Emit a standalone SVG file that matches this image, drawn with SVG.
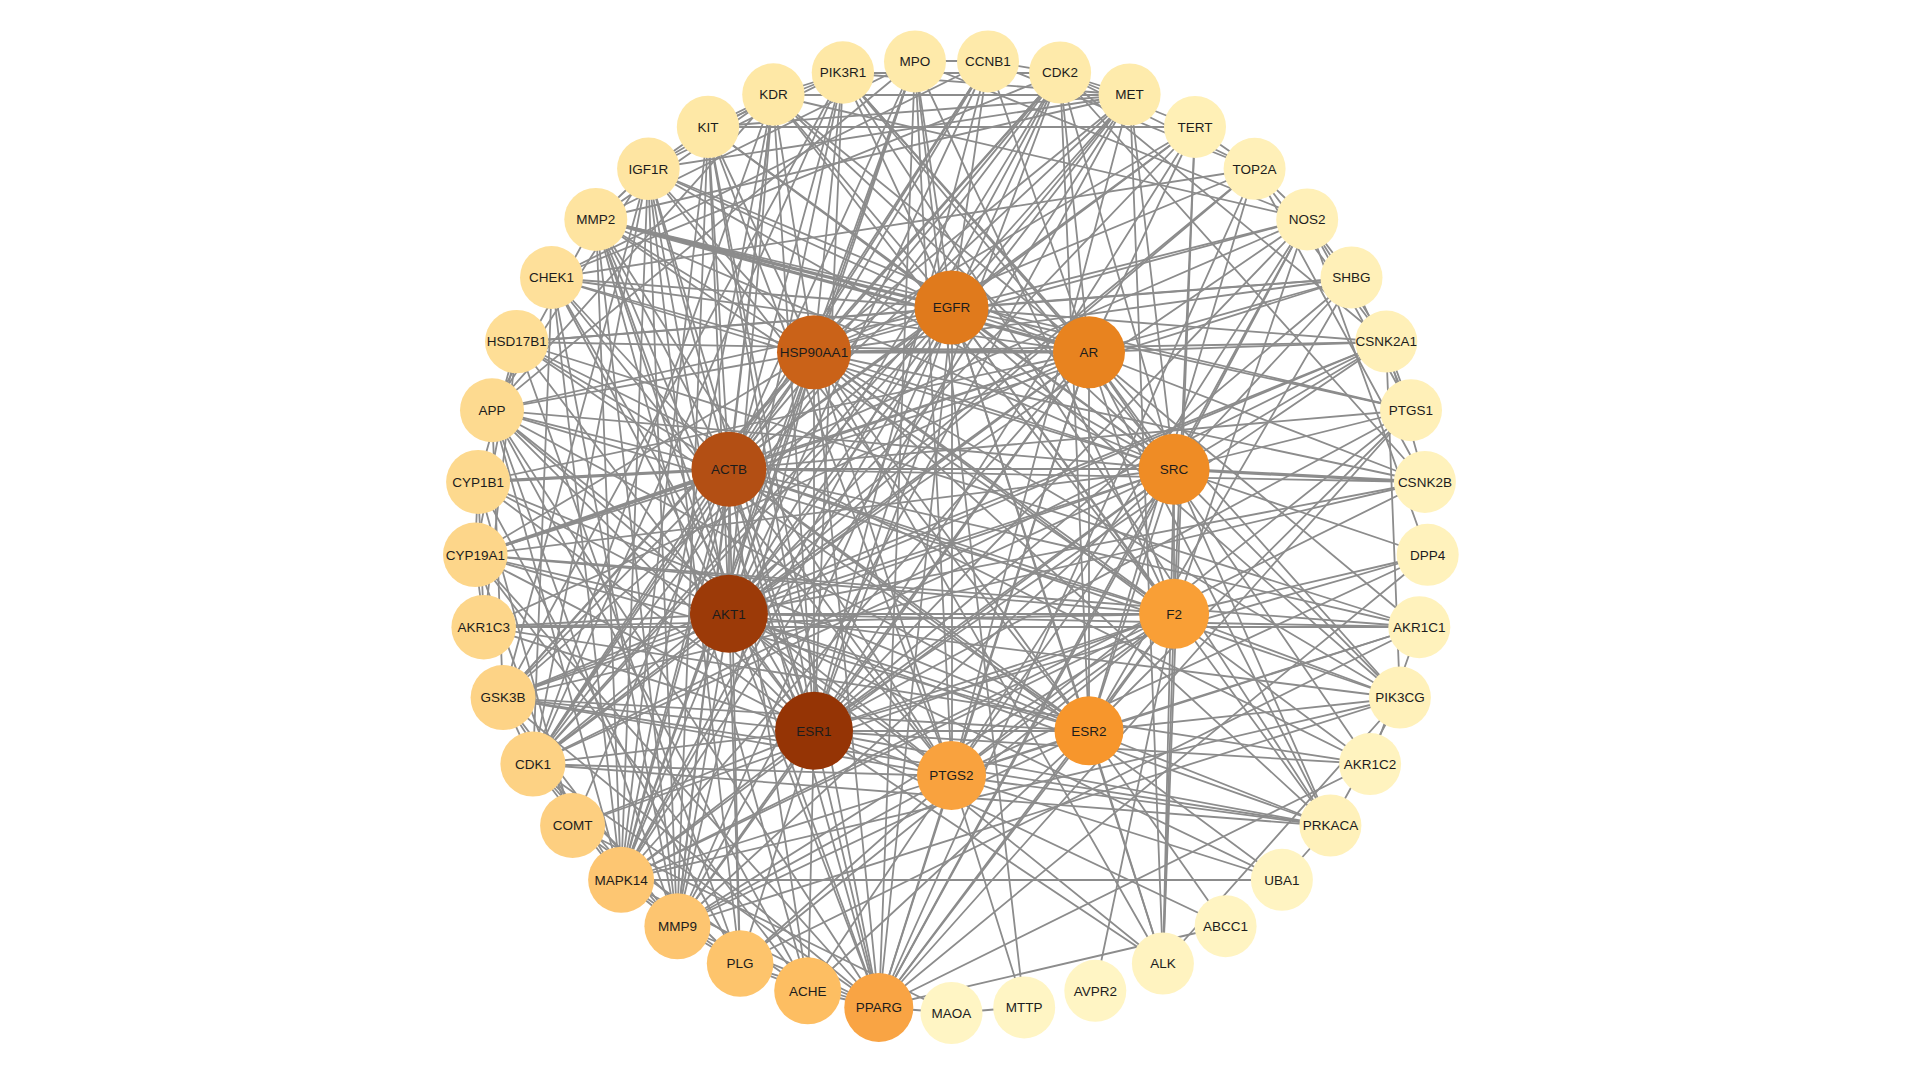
<svg xmlns="http://www.w3.org/2000/svg" width="1920" height="1080" viewBox="0 0 1920 1080">
<style>
.edges line{stroke:#8c8c8c;stroke-width:1.8;stroke-linecap:round}
.edges line.thick{stroke-width:3.2}
.node text{font-family:"Liberation Sans",Arial,Helvetica,sans-serif;font-size:13.5px;fill:#1c1c1c;text-anchor:middle}
</style>
<rect width="1920" height="1080" fill="#ffffff"/>
<g id="connectors" class="edges">
<!-- AKT1 -->
<line x1="729" y1="614" x2="814" y2="731"/>
<line x1="729" y1="614" x2="729" y2="469"/>
<line x1="729" y1="614" x2="814" y2="352"/>
<line x1="729" y1="614" x2="952" y2="308"/>
<line x1="729" y1="614" x2="1089" y2="352"/>
<line x1="729" y1="614" x2="1174" y2="469"/>
<line x1="729" y1="614" x2="1174" y2="614"/>
<line x1="729" y1="614" x2="1089" y2="731"/>
<line x1="729" y1="614" x2="952" y2="776"/>
<line x1="729" y1="614" x2="879" y2="1007"/>
<line x1="729" y1="614" x2="740" y2="964"/>
<line x1="729" y1="614" x2="677" y2="926"/>
<line x1="729" y1="614" x2="621" y2="880"/>
<line x1="729" y1="614" x2="533" y2="764"/>
<line x1="729" y1="614" x2="503" y2="698"/>
<line x1="729" y1="614" x2="484" y2="627"/>
<line x1="729" y1="614" x2="475" y2="555"/>
<line x1="729" y1="614" x2="478" y2="482"/>
<line x1="729" y1="614" x2="492" y2="410"/>
<line x1="729" y1="614" x2="552" y2="278"/>
<line x1="729" y1="614" x2="596" y2="219"/>
<line x1="729" y1="614" x2="648" y2="169"/>
<line x1="729" y1="614" x2="708" y2="127"/>
<line x1="729" y1="614" x2="773" y2="95"/>
<line x1="729" y1="614" x2="843" y2="73"/>
<line x1="729" y1="614" x2="915" y2="61"/>
<line x1="729" y1="614" x2="988" y2="61"/>
<line x1="729" y1="614" x2="1060" y2="73"/>
<line x1="729" y1="614" x2="1130" y2="95"/>
<line x1="729" y1="614" x2="1195" y2="127"/>
<line x1="729" y1="614" x2="1255" y2="169"/>
<line x1="729" y1="614" x2="1307" y2="219"/>
<line x1="729" y1="614" x2="1386" y2="342"/>
<line x1="729" y1="614" x2="1425" y2="482"/>
<line x1="729" y1="614" x2="1419" y2="627"/>
<line x1="729" y1="614" x2="1400" y2="698"/>
<line x1="729" y1="614" x2="1330" y2="826"/>
<line x1="729" y1="614" x2="1282" y2="880"/>
<line x1="729" y1="614" x2="1163" y2="964"/>
<!-- ESR1 -->
<line x1="814" y1="731" x2="729" y2="469"/>
<line x1="814" y1="731" x2="814" y2="352"/>
<line x1="814" y1="731" x2="952" y2="308"/>
<line x1="814" y1="731" x2="1089" y2="352"/>
<line x1="814" y1="731" x2="1174" y2="469"/>
<line x1="814" y1="731" x2="1174" y2="614"/>
<line x1="814" y1="731" x2="1089" y2="731"/>
<line x1="814" y1="731" x2="952" y2="776"/>
<line x1="814" y1="731" x2="879" y2="1007"/>
<line x1="814" y1="731" x2="808" y2="991"/>
<line x1="814" y1="731" x2="740" y2="964"/>
<line x1="814" y1="731" x2="677" y2="926"/>
<line x1="814" y1="731" x2="621" y2="880"/>
<line x1="814" y1="731" x2="573" y2="826"/>
<line x1="814" y1="731" x2="533" y2="764"/>
<line x1="814" y1="731" x2="503" y2="698"/>
<line x1="814" y1="731" x2="484" y2="627"/>
<line x1="814" y1="731" x2="475" y2="555"/>
<line x1="814" y1="731" x2="478" y2="482"/>
<line x1="814" y1="731" x2="492" y2="410"/>
<line x1="814" y1="731" x2="517" y2="342"/>
<line x1="814" y1="731" x2="552" y2="278"/>
<line x1="814" y1="731" x2="596" y2="219"/>
<line x1="814" y1="731" x2="648" y2="169"/>
<line x1="814" y1="731" x2="708" y2="127"/>
<line x1="814" y1="731" x2="773" y2="95"/>
<line x1="814" y1="731" x2="843" y2="73"/>
<line x1="814" y1="731" x2="988" y2="61"/>
<line x1="814" y1="731" x2="1060" y2="73"/>
<line x1="814" y1="731" x2="1195" y2="127"/>
<line x1="814" y1="731" x2="1307" y2="219"/>
<line x1="814" y1="731" x2="1352" y2="278"/>
<line x1="814" y1="731" x2="1386" y2="342"/>
<line x1="814" y1="731" x2="1411" y2="410"/>
<line x1="814" y1="731" x2="1428" y2="555"/>
<line x1="814" y1="731" x2="1370" y2="764"/>
<line x1="814" y1="731" x2="1330" y2="826"/>
<line x1="814" y1="731" x2="1226" y2="926"/>
<line x1="814" y1="731" x2="1163" y2="964"/>
<!-- ACTB -->
<line x1="729" y1="469" x2="814" y2="352"/>
<line x1="729" y1="469" x2="952" y2="308"/>
<line x1="729" y1="469" x2="1089" y2="352"/>
<line x1="729" y1="469" x2="1174" y2="469"/>
<line x1="729" y1="469" x2="1174" y2="614"/>
<line x1="729" y1="469" x2="1089" y2="731"/>
<line x1="729" y1="469" x2="952" y2="776"/>
<line x1="729" y1="469" x2="879" y2="1007"/>
<line x1="729" y1="469" x2="808" y2="991"/>
<line x1="729" y1="469" x2="740" y2="964"/>
<line x1="729" y1="469" x2="677" y2="926"/>
<line x1="729" y1="469" x2="621" y2="880"/>
<line x1="729" y1="469" x2="573" y2="826"/>
<line x1="729" y1="469" x2="533" y2="764"/>
<line x1="729" y1="469" x2="503" y2="698"/>
<line class="thick" x1="729" y1="469" x2="475" y2="555"/>
<line class="thick" x1="729" y1="469" x2="478" y2="482"/>
<line x1="729" y1="469" x2="492" y2="410"/>
<line x1="729" y1="469" x2="517" y2="342"/>
<line x1="729" y1="469" x2="552" y2="278"/>
<line x1="729" y1="469" x2="596" y2="219"/>
<line x1="729" y1="469" x2="648" y2="169"/>
<line x1="729" y1="469" x2="708" y2="127"/>
<line x1="729" y1="469" x2="773" y2="95"/>
<line x1="729" y1="469" x2="915" y2="61"/>
<line x1="729" y1="469" x2="988" y2="61"/>
<line x1="729" y1="469" x2="1060" y2="73"/>
<line x1="729" y1="469" x2="1130" y2="95"/>
<line x1="729" y1="469" x2="1195" y2="127"/>
<line x1="729" y1="469" x2="1307" y2="219"/>
<line x1="729" y1="469" x2="1425" y2="482"/>
<line x1="729" y1="469" x2="1411" y2="410"/>
<line x1="729" y1="469" x2="1419" y2="627"/>
<line x1="729" y1="469" x2="1400" y2="698"/>
<line x1="729" y1="469" x2="1282" y2="880"/>
<!-- HSP90AA1 -->
<line x1="814" y1="352" x2="952" y2="308"/>
<line class="thick" x1="814" y1="352" x2="1089" y2="352"/>
<line x1="814" y1="352" x2="1174" y2="469"/>
<line x1="814" y1="352" x2="1174" y2="614"/>
<line x1="814" y1="352" x2="1089" y2="731"/>
<line x1="814" y1="352" x2="952" y2="776"/>
<line x1="814" y1="352" x2="879" y2="1007"/>
<line x1="814" y1="352" x2="677" y2="926"/>
<line x1="814" y1="352" x2="621" y2="880"/>
<line x1="814" y1="352" x2="533" y2="764"/>
<line x1="814" y1="352" x2="503" y2="698"/>
<line x1="814" y1="352" x2="475" y2="555"/>
<line x1="814" y1="352" x2="492" y2="410"/>
<line x1="814" y1="352" x2="552" y2="278"/>
<line x1="814" y1="352" x2="596" y2="219"/>
<line x1="814" y1="352" x2="648" y2="169"/>
<line x1="814" y1="352" x2="708" y2="127"/>
<line x1="814" y1="352" x2="773" y2="95"/>
<line x1="814" y1="352" x2="843" y2="73"/>
<line x1="814" y1="352" x2="915" y2="61"/>
<line x1="814" y1="352" x2="988" y2="61"/>
<line x1="814" y1="352" x2="1060" y2="73"/>
<line x1="814" y1="352" x2="1130" y2="95"/>
<line x1="814" y1="352" x2="1195" y2="127"/>
<line x1="814" y1="352" x2="1255" y2="169"/>
<line x1="814" y1="352" x2="1307" y2="219"/>
<line x1="814" y1="352" x2="1352" y2="278"/>
<line x1="814" y1="352" x2="1386" y2="342"/>
<line x1="814" y1="352" x2="1425" y2="482"/>
<line x1="814" y1="352" x2="1400" y2="698"/>
<line x1="814" y1="352" x2="1330" y2="826"/>
<line x1="814" y1="352" x2="1163" y2="964"/>
<line x1="814" y1="352" x2="1370" y2="764"/>
<!-- EGFR -->
<line x1="952" y1="308" x2="1089" y2="352"/>
<line x1="952" y1="308" x2="1174" y2="469"/>
<line x1="952" y1="308" x2="1174" y2="614"/>
<line x1="952" y1="308" x2="1089" y2="731"/>
<line x1="952" y1="308" x2="952" y2="776"/>
<line x1="952" y1="308" x2="879" y2="1007"/>
<line x1="952" y1="308" x2="677" y2="926"/>
<line x1="952" y1="308" x2="621" y2="880"/>
<line x1="952" y1="308" x2="533" y2="764"/>
<line x1="952" y1="308" x2="503" y2="698"/>
<line x1="952" y1="308" x2="492" y2="410"/>
<line x1="952" y1="308" x2="552" y2="278"/>
<line class="thick" x1="952" y1="308" x2="596" y2="219"/>
<line x1="952" y1="308" x2="648" y2="169"/>
<line x1="952" y1="308" x2="708" y2="127"/>
<line x1="952" y1="308" x2="773" y2="95"/>
<line x1="952" y1="308" x2="843" y2="73"/>
<line x1="952" y1="308" x2="915" y2="61"/>
<line x1="952" y1="308" x2="988" y2="61"/>
<line x1="952" y1="308" x2="1060" y2="73"/>
<line x1="952" y1="308" x2="1130" y2="95"/>
<line x1="952" y1="308" x2="1195" y2="127"/>
<line x1="952" y1="308" x2="1307" y2="219"/>
<line x1="952" y1="308" x2="1352" y2="278"/>
<line x1="952" y1="308" x2="1386" y2="342"/>
<line x1="952" y1="308" x2="1411" y2="410"/>
<line x1="952" y1="308" x2="1400" y2="698"/>
<line x1="952" y1="308" x2="1330" y2="826"/>
<line x1="952" y1="308" x2="1163" y2="964"/>
<line x1="952" y1="308" x2="517" y2="342"/>
<!-- AR -->
<line x1="1089" y1="352" x2="1174" y2="469"/>
<line x1="1089" y1="352" x2="1174" y2="614"/>
<line x1="1089" y1="352" x2="1089" y2="731"/>
<line x1="1089" y1="352" x2="952" y2="776"/>
<line x1="1089" y1="352" x2="879" y2="1007"/>
<line x1="1089" y1="352" x2="677" y2="926"/>
<line x1="1089" y1="352" x2="621" y2="880"/>
<line x1="1089" y1="352" x2="533" y2="764"/>
<line x1="1089" y1="352" x2="475" y2="555"/>
<line x1="1089" y1="352" x2="478" y2="482"/>
<line x1="1089" y1="352" x2="484" y2="627"/>
<line x1="1089" y1="352" x2="517" y2="342"/>
<line x1="1089" y1="352" x2="552" y2="278"/>
<line class="thick" x1="1089" y1="352" x2="596" y2="219"/>
<line x1="1089" y1="352" x2="648" y2="169"/>
<line x1="1089" y1="352" x2="773" y2="95"/>
<line x1="1089" y1="352" x2="843" y2="73"/>
<line x1="1089" y1="352" x2="988" y2="61"/>
<line x1="1089" y1="352" x2="1060" y2="73"/>
<line x1="1089" y1="352" x2="1195" y2="127"/>
<line x1="1089" y1="352" x2="1352" y2="278"/>
<line x1="1089" y1="352" x2="1386" y2="342"/>
<line x1="1089" y1="352" x2="1425" y2="482"/>
<line x1="1089" y1="352" x2="1419" y2="627"/>
<line x1="1089" y1="352" x2="1370" y2="764"/>
<line x1="1089" y1="352" x2="1330" y2="826"/>
<!-- SRC -->
<line x1="1174" y1="469" x2="1174" y2="614"/>
<line x1="1174" y1="469" x2="1089" y2="731"/>
<line x1="1174" y1="469" x2="952" y2="776"/>
<line x1="1174" y1="469" x2="879" y2="1007"/>
<line x1="1174" y1="469" x2="677" y2="926"/>
<line x1="1174" y1="469" x2="621" y2="880"/>
<line x1="1174" y1="469" x2="533" y2="764"/>
<line x1="1174" y1="469" x2="503" y2="698"/>
<line x1="1174" y1="469" x2="492" y2="410"/>
<line x1="1174" y1="469" x2="475" y2="555"/>
<line x1="1174" y1="469" x2="552" y2="278"/>
<line x1="1174" y1="469" x2="596" y2="219"/>
<line x1="1174" y1="469" x2="648" y2="169"/>
<line x1="1174" y1="469" x2="708" y2="127"/>
<line x1="1174" y1="469" x2="773" y2="95"/>
<line x1="1174" y1="469" x2="843" y2="73"/>
<line x1="1174" y1="469" x2="1060" y2="73"/>
<line x1="1174" y1="469" x2="1130" y2="95"/>
<line x1="1174" y1="469" x2="1307" y2="219"/>
<line x1="1174" y1="469" x2="1352" y2="278"/>
<line x1="1174" y1="469" x2="1386" y2="342"/>
<line class="thick" x1="1174" y1="469" x2="1425" y2="482"/>
<line x1="1174" y1="469" x2="1411" y2="410"/>
<line x1="1174" y1="469" x2="1428" y2="555"/>
<line x1="1174" y1="469" x2="1400" y2="698"/>
<line x1="1174" y1="469" x2="1330" y2="826"/>
<line x1="1174" y1="469" x2="1163" y2="964"/>
<!-- F2 -->
<line x1="1174" y1="614" x2="1089" y2="731"/>
<line x1="1174" y1="614" x2="952" y2="776"/>
<line x1="1174" y1="614" x2="879" y2="1007"/>
<line x1="1174" y1="614" x2="740" y2="964"/>
<line x1="1174" y1="614" x2="677" y2="926"/>
<line x1="1174" y1="614" x2="621" y2="880"/>
<line x1="1174" y1="614" x2="573" y2="826"/>
<line x1="1174" y1="614" x2="475" y2="555"/>
<line x1="1174" y1="614" x2="484" y2="627"/>
<line x1="1174" y1="614" x2="492" y2="410"/>
<line x1="1174" y1="614" x2="596" y2="219"/>
<line x1="1174" y1="614" x2="773" y2="95"/>
<line x1="1174" y1="614" x2="915" y2="61"/>
<line x1="1174" y1="614" x2="1195" y2="127"/>
<line x1="1174" y1="614" x2="1307" y2="219"/>
<line x1="1174" y1="614" x2="1428" y2="555"/>
<line x1="1174" y1="614" x2="1400" y2="698"/>
<line x1="1174" y1="614" x2="1163" y2="964"/>
<line x1="1174" y1="614" x2="1095" y2="991"/>
<!-- ESR2 -->
<line x1="1089" y1="731" x2="952" y2="776"/>
<line x1="1089" y1="731" x2="879" y2="1007"/>
<line x1="1089" y1="731" x2="808" y2="991"/>
<line x1="1089" y1="731" x2="677" y2="926"/>
<line x1="1089" y1="731" x2="503" y2="698"/>
<line x1="1089" y1="731" x2="475" y2="555"/>
<line x1="1089" y1="731" x2="478" y2="482"/>
<line x1="1089" y1="731" x2="492" y2="410"/>
<line x1="1089" y1="731" x2="517" y2="342"/>
<line x1="1089" y1="731" x2="648" y2="169"/>
<line x1="1089" y1="731" x2="1060" y2="73"/>
<line x1="1089" y1="731" x2="1255" y2="169"/>
<line x1="1089" y1="731" x2="1352" y2="278"/>
<line x1="1089" y1="731" x2="1411" y2="410"/>
<line x1="1089" y1="731" x2="1419" y2="627"/>
<line x1="1089" y1="731" x2="1400" y2="698"/>
<line x1="1089" y1="731" x2="1330" y2="826"/>
<line x1="1089" y1="731" x2="1163" y2="964"/>
<line x1="1089" y1="731" x2="1226" y2="926"/>
<!-- PTGS2 -->
<line x1="952" y1="776" x2="879" y2="1007"/>
<line x1="952" y1="776" x2="808" y2="991"/>
<line x1="952" y1="776" x2="740" y2="964"/>
<line x1="952" y1="776" x2="677" y2="926"/>
<line x1="952" y1="776" x2="621" y2="880"/>
<line x1="952" y1="776" x2="533" y2="764"/>
<line x1="952" y1="776" x2="503" y2="698"/>
<line x1="952" y1="776" x2="492" y2="410"/>
<line x1="952" y1="776" x2="552" y2="278"/>
<line x1="952" y1="776" x2="596" y2="219"/>
<line x1="952" y1="776" x2="708" y2="127"/>
<line x1="952" y1="776" x2="915" y2="61"/>
<line x1="952" y1="776" x2="1130" y2="95"/>
<line x1="952" y1="776" x2="1307" y2="219"/>
<line x1="952" y1="776" x2="1411" y2="410"/>
<line x1="952" y1="776" x2="1428" y2="555"/>
<line x1="952" y1="776" x2="1419" y2="627"/>
<line x1="952" y1="776" x2="1330" y2="826"/>
<line x1="952" y1="776" x2="1282" y2="880"/>
<line x1="952" y1="776" x2="1024" y2="1007"/>
<!-- PPARG -->
<line x1="879" y1="1007" x2="952" y2="1013"/>
<line x1="879" y1="1007" x2="808" y2="991"/>
<line x1="879" y1="1007" x2="740" y2="964"/>
<line x1="879" y1="1007" x2="677" y2="926"/>
<line x1="879" y1="1007" x2="621" y2="880"/>
<line x1="879" y1="1007" x2="533" y2="764"/>
<line x1="879" y1="1007" x2="503" y2="698"/>
<line x1="879" y1="1007" x2="475" y2="555"/>
<line x1="879" y1="1007" x2="492" y2="410"/>
<line x1="879" y1="1007" x2="596" y2="219"/>
<line x1="879" y1="1007" x2="708" y2="127"/>
<line x1="879" y1="1007" x2="915" y2="61"/>
<line x1="879" y1="1007" x2="1255" y2="169"/>
<line x1="879" y1="1007" x2="1307" y2="219"/>
<line x1="879" y1="1007" x2="1411" y2="410"/>
<line x1="879" y1="1007" x2="1428" y2="555"/>
<line x1="879" y1="1007" x2="1370" y2="764"/>
<line x1="879" y1="1007" x2="1226" y2="926"/>
<!-- outer ring edges -->
<line x1="952" y1="1013" x2="1024" y2="1007"/>
<line x1="952" y1="1013" x2="573" y2="826"/>
<line x1="1024" y1="1007" x2="915" y2="61"/>
<line x1="808" y1="991" x2="475" y2="555"/>
<line x1="808" y1="991" x2="492" y2="410"/>
<line x1="808" y1="991" x2="596" y2="219"/>
<line x1="808" y1="991" x2="740" y2="964"/>
<line x1="740" y1="964" x2="621" y2="880"/>
<line x1="740" y1="964" x2="533" y2="764"/>
<line x1="740" y1="964" x2="478" y2="482"/>
<line x1="740" y1="964" x2="517" y2="342"/>
<line x1="740" y1="964" x2="648" y2="169"/>
<line x1="740" y1="964" x2="1419" y2="627"/>
<line x1="740" y1="964" x2="677" y2="926"/>
<line x1="677" y1="926" x2="621" y2="880"/>
<line x1="677" y1="926" x2="533" y2="764"/>
<line x1="677" y1="926" x2="503" y2="698"/>
<line x1="677" y1="926" x2="492" y2="410"/>
<line x1="677" y1="926" x2="552" y2="278"/>
<line x1="677" y1="926" x2="596" y2="219"/>
<line x1="677" y1="926" x2="648" y2="169"/>
<line x1="677" y1="926" x2="708" y2="127"/>
<line x1="677" y1="926" x2="773" y2="95"/>
<line x1="677" y1="926" x2="1130" y2="95"/>
<line x1="677" y1="926" x2="1400" y2="698"/>
<line x1="621" y1="880" x2="533" y2="764"/>
<line x1="621" y1="880" x2="503" y2="698"/>
<line x1="621" y1="880" x2="492" y2="410"/>
<line x1="621" y1="880" x2="552" y2="278"/>
<line x1="621" y1="880" x2="596" y2="219"/>
<line x1="621" y1="880" x2="648" y2="169"/>
<line x1="621" y1="880" x2="708" y2="127"/>
<line x1="621" y1="880" x2="773" y2="95"/>
<line x1="621" y1="880" x2="843" y2="73"/>
<line x1="621" y1="880" x2="915" y2="61"/>
<line x1="621" y1="880" x2="1060" y2="73"/>
<line x1="621" y1="880" x2="1130" y2="95"/>
<line x1="621" y1="880" x2="1400" y2="698"/>
<line x1="621" y1="880" x2="1282" y2="880"/>
<line x1="621" y1="880" x2="1425" y2="482"/>
<line x1="573" y1="826" x2="475" y2="555"/>
<line x1="573" y1="826" x2="478" y2="482"/>
<line x1="573" y1="826" x2="808" y2="991"/>
<line x1="533" y1="764" x2="503" y2="698"/>
<line x1="533" y1="764" x2="552" y2="278"/>
<line x1="533" y1="764" x2="988" y2="61"/>
<line x1="533" y1="764" x2="1060" y2="73"/>
<line x1="533" y1="764" x2="1255" y2="169"/>
<line x1="533" y1="764" x2="1130" y2="95"/>
<line x1="533" y1="764" x2="773" y2="95"/>
<line x1="533" y1="764" x2="648" y2="169"/>
<line x1="533" y1="764" x2="843" y2="73"/>
<line x1="533" y1="764" x2="1386" y2="342"/>
<line x1="533" y1="764" x2="1330" y2="826"/>
<line x1="503" y1="698" x2="492" y2="410"/>
<line x1="503" y1="698" x2="1060" y2="73"/>
<line x1="503" y1="698" x2="843" y2="73"/>
<line x1="503" y1="698" x2="648" y2="169"/>
<line x1="503" y1="698" x2="1386" y2="342"/>
<line x1="503" y1="698" x2="1425" y2="482"/>
<line x1="503" y1="698" x2="1330" y2="826"/>
<line x1="484" y1="627" x2="1419" y2="627"/>
<line x1="484" y1="627" x2="1370" y2="764"/>
<line x1="484" y1="627" x2="517" y2="342"/>
<line x1="484" y1="627" x2="475" y2="555"/>
<line x1="484" y1="627" x2="478" y2="482"/>
<line x1="475" y1="555" x2="478" y2="482"/>
<line x1="475" y1="555" x2="517" y2="342"/>
<line x1="475" y1="555" x2="1352" y2="278"/>
<line x1="475" y1="555" x2="1419" y2="627"/>
<line x1="478" y1="482" x2="517" y2="342"/>
<line x1="492" y1="410" x2="596" y2="219"/>
<line x1="492" y1="410" x2="648" y2="169"/>
<line x1="492" y1="410" x2="773" y2="95"/>
<line x1="492" y1="410" x2="915" y2="61"/>
<line x1="517" y1="342" x2="1352" y2="278"/>
<line x1="517" y1="342" x2="1419" y2="627"/>
<line x1="517" y1="342" x2="1370" y2="764"/>
<line x1="552" y1="278" x2="988" y2="61"/>
<line x1="552" y1="278" x2="1060" y2="73"/>
<line x1="552" y1="278" x2="1255" y2="169"/>
<line x1="596" y1="219" x2="773" y2="95"/>
<line x1="596" y1="219" x2="648" y2="169"/>
<line x1="596" y1="219" x2="915" y2="61"/>
<line x1="596" y1="219" x2="1130" y2="95"/>
<line x1="596" y1="219" x2="1411" y2="410"/>
<line x1="648" y1="169" x2="708" y2="127"/>
<line x1="648" y1="169" x2="773" y2="95"/>
<line x1="648" y1="169" x2="843" y2="73"/>
<line x1="648" y1="169" x2="1130" y2="95"/>
<line x1="708" y1="127" x2="773" y2="95"/>
<line x1="708" y1="127" x2="843" y2="73"/>
<line x1="708" y1="127" x2="1195" y2="127"/>
<line x1="708" y1="127" x2="1130" y2="95"/>
<line x1="773" y1="95" x2="843" y2="73"/>
<line x1="773" y1="95" x2="1130" y2="95"/>
<line x1="773" y1="95" x2="1307" y2="219"/>
<line x1="843" y1="73" x2="1130" y2="95"/>
<line x1="843" y1="73" x2="1060" y2="73"/>
<line x1="843" y1="73" x2="1400" y2="698"/>
<line x1="843" y1="73" x2="1330" y2="826"/>
<line x1="915" y1="61" x2="988" y2="61"/>
<line x1="915" y1="61" x2="1307" y2="219"/>
<line x1="988" y1="61" x2="1060" y2="73"/>
<line x1="988" y1="61" x2="1255" y2="169"/>
<line x1="1060" y1="73" x2="1130" y2="95"/>
<line x1="1060" y1="73" x2="1255" y2="169"/>
<line x1="1060" y1="73" x2="1195" y2="127"/>
<line x1="1060" y1="73" x2="1386" y2="342"/>
<line x1="1060" y1="73" x2="1425" y2="482"/>
<line x1="1130" y1="95" x2="1163" y2="964"/>
<line x1="1195" y1="127" x2="1255" y2="169"/>
<line x1="1195" y1="127" x2="1163" y2="964"/>
<line x1="1255" y1="169" x2="1386" y2="342"/>
<line x1="1255" y1="169" x2="1425" y2="482"/>
<line x1="1255" y1="169" x2="1307" y2="219"/>
<line x1="1307" y1="219" x2="1411" y2="410"/>
<line x1="1307" y1="219" x2="1428" y2="555"/>
<line x1="1307" y1="219" x2="1352" y2="278"/>
<line x1="1307" y1="219" x2="1386" y2="342"/>
<line x1="1352" y1="278" x2="1411" y2="410"/>
<line x1="1386" y1="342" x2="1425" y2="482"/>
<line x1="1386" y1="342" x2="1400" y2="698"/>
<line x1="1386" y1="342" x2="1411" y2="410"/>
<line x1="1419" y1="627" x2="1370" y2="764"/>
<line x1="1400" y1="698" x2="1330" y2="826"/>
<line x1="1400" y1="698" x2="1163" y2="964"/>
<line x1="1330" y1="826" x2="1282" y2="880"/>
</g>
<g id="nodes">
<g id="node-MAOA" class="node"><circle cx="951.5" cy="1013" r="31" fill="#FFF5C4"/><text x="951.5" y="1017.8">MAOA</text></g>
<g id="node-PPARG" class="node"><circle cx="878.8" cy="1007.4" r="34.5" fill="#F9A444"/><text x="878.8" y="1012.2">PPARG</text></g>
<g id="node-ACHE" class="node"><circle cx="807.7" cy="990.8" r="33.5" fill="#FDBE62"/><text x="807.7" y="995.6">ACHE</text></g>
<g id="node-PLG" class="node"><circle cx="740.1" cy="963.5" r="33.3" fill="#FDC46C"/><text x="740.1" y="968.3">PLG</text></g>
<g id="node-MMP9" class="node"><circle cx="677.4" cy="926.2" r="33" fill="#FDC570"/><text x="677.4" y="931">MMP9</text></g>
<g id="node-MAPK14" class="node"><circle cx="621.1" cy="879.8" r="33" fill="#FDC672"/><text x="621.1" y="884.6">MAPK14</text></g>
<g id="node-COMT" class="node"><circle cx="572.6" cy="825.5" r="32.5" fill="#FDCF80"/><text x="572.6" y="830.3">COMT</text></g>
<g id="node-CDK1" class="node"><circle cx="532.9" cy="764.1" r="32.5" fill="#FDD284"/><text x="532.9" y="768.9">CDK1</text></g>
<g id="node-GSK3B" class="node"><circle cx="503.1" cy="697.6" r="32.5" fill="#FDD386"/><text x="503.1" y="702.4">GSK3B</text></g>
<g id="node-AKR1C3" class="node"><circle cx="483.7" cy="627.2" r="32.3" fill="#FDD68A"/><text x="483.7" y="632">AKR1C3</text></g>
<g id="node-CYP19A1" class="node"><circle cx="475.3" cy="554.8" r="32.3" fill="#FDD68A"/><text x="475.3" y="559.6">CYP19A1</text></g>
<g id="node-CYP1B1" class="node"><circle cx="478.1" cy="481.9" r="32" fill="#FDD98E"/><text x="478.1" y="486.7">CYP1B1</text></g>
<g id="node-APP" class="node"><circle cx="492" cy="410.2" r="32" fill="#FDDA90"/><text x="492" y="415">APP</text></g>
<g id="node-HSD17B1" class="node"><circle cx="516.7" cy="341.6" r="31.7" fill="#FEDE96"/><text x="516.7" y="346.4">HSD17B1</text></g>
<g id="node-CHEK1" class="node"><circle cx="551.5" cy="277.5" r="31.5" fill="#FEE09A"/><text x="551.5" y="282.3">CHEK1</text></g>
<g id="node-MMP2" class="node"><circle cx="595.8" cy="219.4" r="31.5" fill="#FEE4A0"/><text x="595.8" y="224.2">MMP2</text></g>
<g id="node-IGF1R" class="node"><circle cx="648.4" cy="168.8" r="31.3" fill="#FEE5A2"/><text x="648.4" y="173.6">IGF1R</text></g>
<g id="node-KIT" class="node"><circle cx="708" cy="126.9" r="31.2" fill="#FEE8A6"/><text x="708" y="131.7">KIT</text></g>
<g id="node-KDR" class="node"><circle cx="773.4" cy="94.5" r="31.2" fill="#FEE8A6"/><text x="773.4" y="99.3">KDR</text></g>
<g id="node-PIK3R1" class="node"><circle cx="842.9" cy="72.5" r="31.2" fill="#FEE8A6"/><text x="842.9" y="77.3">PIK3R1</text></g>
<g id="node-MPO" class="node"><circle cx="915" cy="61.4" r="31" fill="#FEEAAA"/><text x="915" y="66.2">MPO</text></g>
<g id="node-CCNB1" class="node"><circle cx="988" cy="61.4" r="31" fill="#FEEAAA"/><text x="988" y="66.2">CCNB1</text></g>
<g id="node-CDK2" class="node"><circle cx="1060.1" cy="72.5" r="31" fill="#FEEAAA"/><text x="1060.1" y="77.3">CDK2</text></g>
<g id="node-MET" class="node"><circle cx="1129.6" cy="94.5" r="31" fill="#FEEBAC"/><text x="1129.6" y="99.3">MET</text></g>
<g id="node-TERT" class="node"><circle cx="1195" cy="126.9" r="31" fill="#FFF0B6"/><text x="1195" y="131.7">TERT</text></g>
<g id="node-TOP2A" class="node"><circle cx="1254.6" cy="168.8" r="31" fill="#FFF0B8"/><text x="1254.6" y="173.6">TOP2A</text></g>
<g id="node-NOS2" class="node"><circle cx="1307.2" cy="219.4" r="31" fill="#FFF0B8"/><text x="1307.2" y="224.2">NOS2</text></g>
<g id="node-SHBG" class="node"><circle cx="1351.5" cy="277.5" r="31" fill="#FFF0B8"/><text x="1351.5" y="282.3">SHBG</text></g>
<g id="node-CSNK2A1" class="node"><circle cx="1386.3" cy="341.6" r="31" fill="#FFF0B8"/><text x="1386.3" y="346.4">CSNK2A1</text></g>
<g id="node-PTGS1" class="node"><circle cx="1411" cy="410.2" r="31" fill="#FFF0B8"/><text x="1411" y="415">PTGS1</text></g>
<g id="node-CSNK2B" class="node"><circle cx="1424.9" cy="481.9" r="31" fill="#FFF2BC"/><text x="1424.9" y="486.7">CSNK2B</text></g>
<g id="node-DPP4" class="node"><circle cx="1427.7" cy="554.8" r="31" fill="#FFF2BC"/><text x="1427.7" y="559.6">DPP4</text></g>
<g id="node-AKR1C1" class="node"><circle cx="1419.3" cy="627.2" r="31" fill="#FFF2BC"/><text x="1419.3" y="632">AKR1C1</text></g>
<g id="node-PIK3CG" class="node"><circle cx="1399.9" cy="697.6" r="31" fill="#FFF1BA"/><text x="1399.9" y="702.4">PIK3CG</text></g>
<g id="node-AKR1C2" class="node"><circle cx="1370.1" cy="764.1" r="31" fill="#FFF3BF"/><text x="1370.1" y="768.9">AKR1C2</text></g>
<g id="node-PRKACA" class="node"><circle cx="1330.4" cy="825.5" r="31" fill="#FFF1BA"/><text x="1330.4" y="830.3">PRKACA</text></g>
<g id="node-UBA1" class="node"><circle cx="1281.9" cy="879.8" r="31" fill="#FFF4C2"/><text x="1281.9" y="884.6">UBA1</text></g>
<g id="node-ABCC1" class="node"><circle cx="1225.6" cy="926.2" r="31" fill="#FFF4C2"/><text x="1225.6" y="931">ABCC1</text></g>
<g id="node-ALK" class="node"><circle cx="1162.9" cy="963.5" r="31" fill="#FFF3C0"/><text x="1162.9" y="968.3">ALK</text></g>
<g id="node-AVPR2" class="node"><circle cx="1095.3" cy="990.8" r="31" fill="#FFF5C4"/><text x="1095.3" y="995.6">AVPR2</text></g>
<g id="node-MTTP" class="node"><circle cx="1024.2" cy="1007.4" r="31" fill="#FFF5C4"/><text x="1024.2" y="1012.2">MTTP</text></g>
<g id="node-EGFR" class="node"><circle cx="951.5" cy="307.5" r="37" fill="#E07A1C"/><text x="951.5" y="312.3">EGFR</text></g>
<g id="node-AR" class="node"><circle cx="1089" cy="352.2" r="36" fill="#E8831F"/><text x="1089" y="357">AR</text></g>
<g id="node-SRC" class="node"><circle cx="1174.1" cy="469.2" r="35.5" fill="#EF8C25"/><text x="1174.1" y="474">SRC</text></g>
<g id="node-F2" class="node"><circle cx="1174.1" cy="613.8" r="35" fill="#F99F36"/><text x="1174.1" y="618.6">F2</text></g>
<g id="node-ESR2" class="node"><circle cx="1089" cy="730.8" r="34.5" fill="#F7962C"/><text x="1089" y="735.6">ESR2</text></g>
<g id="node-PTGS2" class="node"><circle cx="951.5" cy="775.5" r="34.5" fill="#F9A23E"/><text x="951.5" y="780.3">PTGS2</text></g>
<g id="node-ESR1" class="node"><circle cx="814" cy="730.8" r="39" fill="#953405"/><text x="814" y="735.6">ESR1</text></g>
<g id="node-AKT1" class="node"><circle cx="728.9" cy="613.8" r="39" fill="#9C3A08"/><text x="728.9" y="618.6">AKT1</text></g>
<g id="node-ACTB" class="node"><circle cx="728.9" cy="469.2" r="37.5" fill="#B34F14"/><text x="728.9" y="474">ACTB</text></g>
<g id="node-HSP90AA1" class="node"><circle cx="814" cy="352.2" r="37" fill="#CA6218"/><text x="814" y="357">HSP90AA1</text></g>
</g>
</svg>
